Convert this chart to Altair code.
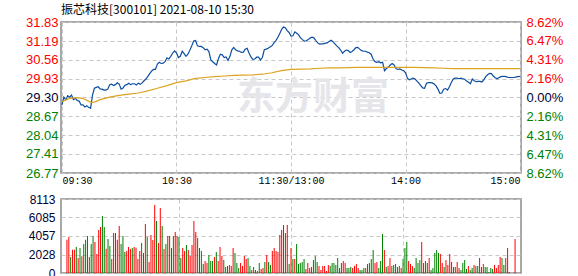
import altair as alt
import pandas as pd

title_text = "振芯科技[300101] 2021-08-10 15:30"
watermark_text = "东方财富"
prev_close = 29.30
price_ticks = [26.77, 27.41, 28.04, 28.67, 29.30, 29.93, 30.56, 31.19, 31.83]
pct_ticks = [-8.62, -6.47, -4.31, -2.16, 0.00, 2.16, 4.31, 6.47, 8.62]
vol_ticks = [0, 2028, 4057, 6085, 8113]
time_ticks = [0, 60, 120, 180, 240]
time_labels = ["09:30", "10:30", "11:30/13:00", "14:00", "15:00"]

price = [
    29.05, 29.31, 29.22, 29.36, 29.31, 29.38, 29.23, 29.27, 29.20, 29.18,
    29.05, 29.05, 28.98, 29.02, 28.97, 28.94, 29.38, 29.61, 29.64, 29.66,
    29.59, 29.58, 29.55, 29.55, 29.58, 29.73, 29.75, 29.70, 29.73, 29.79,
    29.75, 29.58, 29.62, 29.71, 29.73, 29.78, 29.73, 29.76, 29.76, 29.72,
    29.78, 29.74, 29.79, 29.86, 29.92, 30.01, 30.10, 30.19, 30.24, 30.24,
    30.42, 30.48, 30.44, 30.45, 30.50, 30.63, 30.59, 30.68, 30.79, 30.86,
    30.80, 30.64, 30.68, 30.85, 30.77, 30.68, 30.75, 30.88, 31.03, 31.19,
    31.21, 31.03, 31.01, 31.01, 30.97, 30.90, 30.92, 30.84, 30.56, 30.50,
    30.44, 30.39, 30.61, 30.75, 30.73, 30.64, 30.66, 30.54, 30.68, 30.90,
    30.98, 30.90, 30.86, 30.85, 30.81, 30.82, 30.92, 30.95, 30.79, 30.66,
    30.58, 30.59, 30.65, 30.65, 30.56, 30.64, 30.90, 30.92, 30.95, 30.99,
    31.03, 31.12, 31.20, 31.30, 31.43, 31.57, 31.66, 31.64, 31.54, 31.48,
    31.36, 31.37, 31.50, 31.45, 31.40, 31.30, 31.24, 31.19, 31.20, 31.24,
    31.29, 31.32, 31.30, 31.21, 31.13, 31.09, 31.10, 31.10, 31.12, 31.13,
    31.18, 31.22, 31.17, 31.10, 31.03, 30.97, 30.89, 30.78, 30.85, 30.89,
    30.87, 30.81, 30.84, 30.90, 30.97, 30.98, 30.92, 30.87, 30.85, 30.85,
    30.82, 30.80, 30.75, 30.59, 30.50, 30.48, 30.50, 30.46, 30.48, 30.20,
    30.27, 30.32, 30.39, 30.44, 30.39, 30.27, 30.24, 30.26, 30.22, 30.20,
    30.13, 29.95, 29.89, 29.92, 29.95, 29.92, 29.85, 29.78, 29.70, 29.62,
    29.61, 29.78, 29.80, 29.80, 29.79, 29.75, 29.69, 29.58, 29.44, 29.45,
    29.58, 29.60, 29.55, 29.66, 29.80, 29.92, 29.95, 29.95, 29.93, 29.95,
    29.93, 29.91, 29.85, 29.81, 29.76, 29.92, 29.86, 29.83, 29.84, 29.84,
    29.82, 29.89, 30.00, 30.06, 30.11, 30.10, 30.02, 29.96, 29.93, 29.97,
    30.00, 30.01, 30.01, 29.99, 29.97, 29.97, 29.97, 29.97, 29.99, 30.00,
    30.01,
]

avg_minutes = [0, 2, 4, 6, 8, 10, 12, 14, 16, 18, 20, 25, 30, 35, 40, 45, 50,
               55, 60, 65, 70, 75, 80, 85, 90, 95, 100, 105, 110, 115, 120,
               125, 130, 135, 140, 145, 150, 155, 160, 165, 170, 175, 180,
               185, 190, 195, 200, 205, 210, 215, 220, 225, 230, 235, 240]
avg_price = [29.16, 29.22, 29.27, 29.29, 29.29, 29.28, 29.24, 29.17, 29.13,
             29.17, 29.23, 29.31, 29.37, 29.41, 29.45, 29.52, 29.61, 29.70,
             29.80, 29.86, 29.94, 29.97, 30.00, 30.02, 30.04, 30.05, 30.06,
             30.08, 30.13, 30.20, 30.24, 30.25, 30.26, 30.28, 30.29, 30.29,
             30.30, 30.31, 30.31, 30.31, 30.31, 30.31, 30.31, 30.31, 30.30,
             30.29, 30.28, 30.27, 30.27, 30.27, 30.27, 30.27, 30.27, 30.27,
             30.27]

volume = [
    3650, 3940, 1750, 2555, 2555, 2850, 1640, 2740, 1825, 3175,
    3650, 4050, 1750, 3175, 4050, 3400, 2080, 4710, 5040, 6240,
    5040, 2660, 3720, 2960, 1530, 4380, 4380, 3650, 5150, 3175,
    4050, 2300, 2410, 2850, 2630, 2740, 2850, 2770, 1530, 2410,
    3285, 2190, 5370, 3940, 1200, 4160, 3610, 7450, 5700, 3285,
    7120, 5150, 2630, 3175, 4050, 4050, 2740, 4050, 4490, 4050,
    3940, 1640, 2740, 2410, 3070, 2520, 1860, 3070, 5700, 4490,
    3830, 2740, 2410, 990, 1310, 1100, 1970, 1310, 1310, 1750,
    2300, 1310, 2850, 1860, 1420, 660, 770, 880, 770, 2740,
    2190, 1100, 550, 1100, 770, 1860, 1530, 1640, 770, 330,
    660, 330, 220, 1100, 440, 550, 1200, 1970, 1200, 880,
    2410, 2740, 2410, 2300, 4160, 4710, 5260, 4380, 5260, 990,
    2740, 1530, 1530, 3175, 990, 1100, 1200, 1530, 440, 1100,
    550, 660, 1420, 1860, 1200, 770, 330, 770, 770, 220,
    880, 770, 1100, 1100, 880, 1640, 550, 1100, 1310, 1100,
    550, 550, 660, 550, 770, 990, 550, 330, 330, 550,
    550, 990, 1100, 1530, 2520, 1100, 1200, 550, 1310, 4270,
    2520, 660, 770, 1640, 770, 880, 990, 660, 770, 550,
    1530, 2740, 3400, 1310, 990, 770, 550, 1640, 1100, 1420,
    3400, 1100, 1310, 1100, 1640, 330, 550, 2190, 2520, 2190,
    2080, 1100, 660, 1420, 880, 2080, 1200, 660, 660, 1200,
    550, 330, 1100, 1420, 440, 770, 330, 550, 880, 770,
    770, 1640, 660, 990, 660, 660, 110, 550, 440, 880,
    550, 880, 1750, 1640, 880, 1640, 2740, 110, 0, 0,
    3720,
]
vol_dir = list(
    "rrgrrgrgrg" "ggrggrrrrg" "grggrrgrrg" "ggrrrgrrrr" "grrgrrrrgr"
    "rgrgrgrgrr" "g"
    "grrgrrrrrg" "gggrrgggrg" "rrrggrrrrg" "ggrrrrggrg" "rrgrrgrggr"
    "rrrrrggrg"
    "rgrggggg" "rrrrggg" "rrrrrrgggggggrrgggrrrrgggrggggrrgggrgrrgggrgr"
    "gggrrrgggg" "rrggrggggg" "rrgrrrrggr" "rgggg" "rggrg" "grrrggggg"
    "rrrrggrrr" "rr" "r"
)

minutes = list(range(len(price)))
price_df = pd.DataFrame({"minute": minutes, "price": price})
avg_df = pd.DataFrame({"minute": avg_minutes, "avg": avg_price})
vol_df = pd.DataFrame({"minute": list(range(len(volume))), "volume": volume,
                       "dir": vol_dir[:len(volume)]})
pct_df = pd.DataFrame({"pct": pct_ticks})

RED, GREEN, NEUTRAL = "#ff0000", "#008000", "#000033"
GRID = "#c8c8c8"

label_expr = " : ".join(
    f"datum.value == {t} ? '{l}'" for t, l in zip(time_ticks, time_labels)
) + " : ''"

xscale = alt.Scale(domain=[-0.5, 240.5], nice=False, zero=False)
yscale = alt.Scale(domain=[price_ticks[0], price_ticks[-1]], nice=False, zero=False)

top_xaxis = alt.Axis(values=time_ticks, labelExpr=label_expr, labelFlush=3,
                     grid=True, gridDash=[4, 3], gridColor=GRID, ticks=False,
                     domain=False, labelFont="Liberation Mono", labelFontSize=10,
                     labelColor="#000000", labelPadding=2, title=None)
left_axis = alt.Axis(values=price_ticks, format=".2f", grid=True, gridDash=[4, 3],
                     gridColor=GRID, ticks=False, tickSize=0, domain=False,
                     labelFont="Liberation Sans", labelFontSize=13, labelPadding=3,
                     title=None,
                     labelColor={"condition": [
                         {"test": f"datum.value > {prev_close + 0.001}", "value": RED},
                         {"test": f"datum.value < {prev_close - 0.001}", "value": GREEN}],
                         "value": NEUTRAL})
right_axis = alt.Axis(orient="right", values=pct_ticks,
                      labelExpr="format(abs(datum.value), '.2f') + '%'",
                      grid=False, ticks=False, tickSize=0, domain=False,
                      labelFont="Liberation Sans", labelFontSize=13, labelPadding=5,
                      title=None,
                      labelColor={"condition": [
                          {"test": "datum.value > 0.001", "value": RED},
                          {"test": "datum.value < -0.001", "value": GREEN}],
                          "value": NEUTRAL})

x_top = alt.X("minute:Q", scale=xscale, axis=top_xaxis)

watermark = alt.Chart(pd.DataFrame({"t": [watermark_text]})).mark_text(
    font="Noto Sans CJK SC", fontSize=38, fontWeight="bold", color="#e6e6ea",
    align="center", baseline="middle"
).encode(text="t:N", x=alt.value(252), y=alt.value(76))

price_line = alt.Chart(price_df).mark_line(color="#0b4ea2", strokeWidth=1.2).encode(
    x=x_top, y=alt.Y("price:Q", scale=yscale, axis=left_axis))
avg_line = alt.Chart(avg_df).mark_line(color="#dca420", strokeWidth=1.2).encode(
    x=x_top, y=alt.Y("avg:Q", scale=yscale, axis=left_axis))

right_dummy = alt.Chart(pct_df).mark_point(opacity=0).encode(
    y=alt.Y("pct:Q", scale=alt.Scale(domain=[pct_ticks[0], pct_ticks[-1]], nice=False,
                                     zero=False), axis=right_axis))

top = alt.layer(alt.layer(watermark, price_line, avg_line), right_dummy).resolve_scale(
    y="independent").properties(
    width=460, height=151,
    title=alt.Title(title_text, anchor="start", frame="group", font="Noto Sans CJK SC",
                    fontSize=12, fontWeight="normal", color="#000000", offset=-1))

vol_chart = alt.Chart(vol_df).mark_bar(size=1).encode(
    x=alt.X("minute:Q", scale=xscale,
            axis=alt.Axis(values=[60, 120, 180], labels=False, ticks=False,
                          domain=False, grid=True, gridDash=[4, 3], gridColor=GRID,
                          title=None)),
    y=alt.Y("volume:Q", scale=alt.Scale(domain=[vol_ticks[0], vol_ticks[-1]], nice=False),
            axis=alt.Axis(values=vol_ticks, format="d", grid=True, gridDash=[4, 3],
                          gridColor=GRID, ticks=False, tickSize=0, domain=False,
                          labelFont="Liberation Sans", labelFontSize=12,
                          labelPadding=6, labelColor=NEUTRAL, title=None)),
    color=alt.Color("dir:N", scale=alt.Scale(domain=["r", "g"], range=[RED, GREEN]),
                    legend=None),
).properties(width=460, height=74)

chart = alt.vconcat(top, vol_chart, spacing=6).properties(
    padding={"left": 24, "top": 3, "right": 0, "bottom": 0},
    background="#ffffff",
).configure_view(stroke="#8c8c8c", strokeWidth=1.5)

chart.save("out.html", embed_options={"renderer": "svg", "actions": False})
